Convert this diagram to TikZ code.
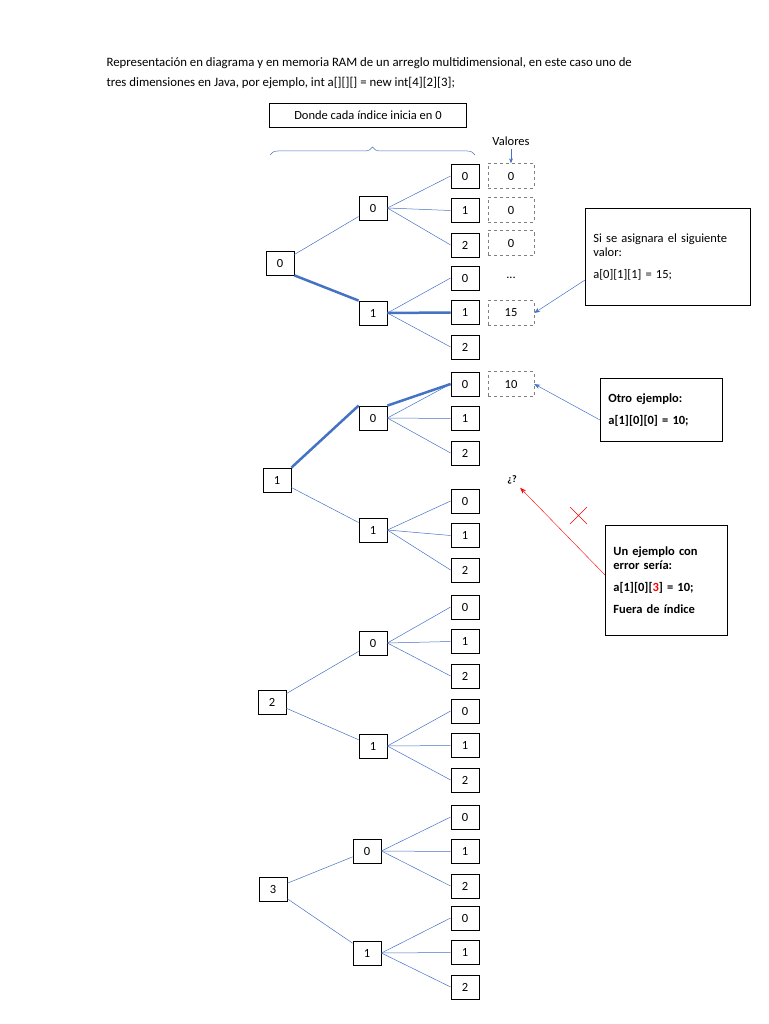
\documentclass[tikz,border=0pt]{standalone}
\usepackage{fontspec}
\setmainfont{Carlito}
\usetikzlibrary{decorations.pathreplacing,arrows.meta}
\begin{document}
\begin{tikzpicture}[x=1pt,y=-1pt,font=\fontsize{12.5}{14}\selectfont,
 bx/.style={draw,thick,minimum width=28pt,minimum height=24pt,inner sep=0pt},
 vb/.style={draw=gray,dashed,minimum width=46pt,minimum height=25pt,inner sep=0pt},
 ln/.style={draw={rgb,255:red,68;green,114;blue,196},line width=0.5pt},
 tk/.style={draw={rgb,255:red,68;green,114;blue,196},line width=2.5pt},
 call/.style={draw,thick,align=left,anchor=north west,inner xsep=8pt,inner ysep=7pt,text width=#1}]
\useasboundingbox (0,0) rectangle (768,1024);
\node[anchor=west,align=left,font=\fontsize{12.8}{20.5}\selectfont] (t) at (103,73) {Representación en diagrama y en memoria RAM de un arreglo multidimensional, en este caso uno de\\tres dimensiones en Java, por ejemplo, int a[][][] = new int[4][2][3];};
\node[draw,thick,minimum width=197pt,minimum height=24pt] (top) at (368,115) {Donde cada índice inicia en 0};
\draw[ln,decorate,decoration={brace,amplitude=8pt}] (270,155) -- (475,155);
% level 1
\node[bx] (a0) at (280,263) {0};
\node[bx] (a1) at (277,480) {1};
\node[bx] (a2) at (272,702) {2};
\node[bx] (a3) at (273,889) {3};
\foreach \i/\x/\ya/\yb in {0/373/208/313,1/373/418/530,2/373/643/746,3/367/851/953}{
 \node[bx] (b\i0) at (\x,\ya) {0};
 \node[bx] (b\i1) at (\x,\yb) {1};
}
\foreach \i/\j/\y in {0/0/176,0/1/278,1/0/384,1/1/501,2/0/607,2/1/711,3/0/817,3/1/918}{
 \foreach \k in {0,1,2}{
  \node[bx] (c\i\j\k) at (465,\y+\k*34.5) {\k};
 }
}
% edges
\foreach \i in {0,1,2,3}{
 \foreach \j in {0,1}{
  \ifnum\i=0 \ifnum\j=1 \else \path[ln] (a\i) -- (b\i\j); \fi \fi
  \ifnum\i=1 \ifnum\j=0 \else \path[ln] (a\i) -- (b\i\j); \fi \fi
  \ifnum\i>1 \path[ln] (a\i) -- (b\i\j); \fi
  \foreach \k in {0,1,2}{\path[ln] (b\i\j.east) -- (c\i\j\k.west);}
 }
}
\path[tk] (a0.south east) -- (b01.north west);
\path[tk] (b01.east) -- (c011.west);
\path[tk] (a1.north east) -- (b10.north west);
\path[tk] (b10.north east) -- (c100.west);
% values
\node[vb] (v0) at (511,176) {0};
\node[vb] (v1) at (511,210) {0};
\node[vb] (v2) at (511,243) {0};
\node (vd) at (511,278) {...};
\node[vb] (v15) at (511,313) {15};
\node[vb] (v10) at (511,384) {10};
\node (val) at (511,141) {Valores};
\draw[ln,-{Stealth[length=5pt]}] (val.south) -- (v0.north);
% callouts
\node[call=149pt,minimum height=97pt] (k1) at (585,208) {Si se asignara el siguiente valor:\\[8pt]a[0][1][1] = 15;};
\node[call=106pt,minimum height=63pt] (k2) at (600,378) {\textbf{Otro ejemplo:}\\[8pt]\textbf{a[1][0][0] = 10;}};
\node[call=106pt,minimum height=110pt] (k3) at (605,525) {\textbf{Un ejemplo con error sería:}\\[8pt]\textbf{a[1][0][\textcolor{red}{3}] = 10;}\\[8pt]\textbf{Fuera de índice}};
\draw[ln,-{Stealth[length=6pt]}] (k1.west |- 0,280) -- (v15.east);
\draw[ln,-{Stealth[length=6pt]}] (k2.west |- 0,420) -- (v10.east);
\node[font=\bfseries] (q) at (512,480) {¿?};
\draw[red,-{Stealth[length=6pt]}] (k3.west |- 0,575) -- (q.south east);
\draw[red] (570,507) -- (587,524) (570,524) -- (587,507);
\end{tikzpicture}
\end{document}
